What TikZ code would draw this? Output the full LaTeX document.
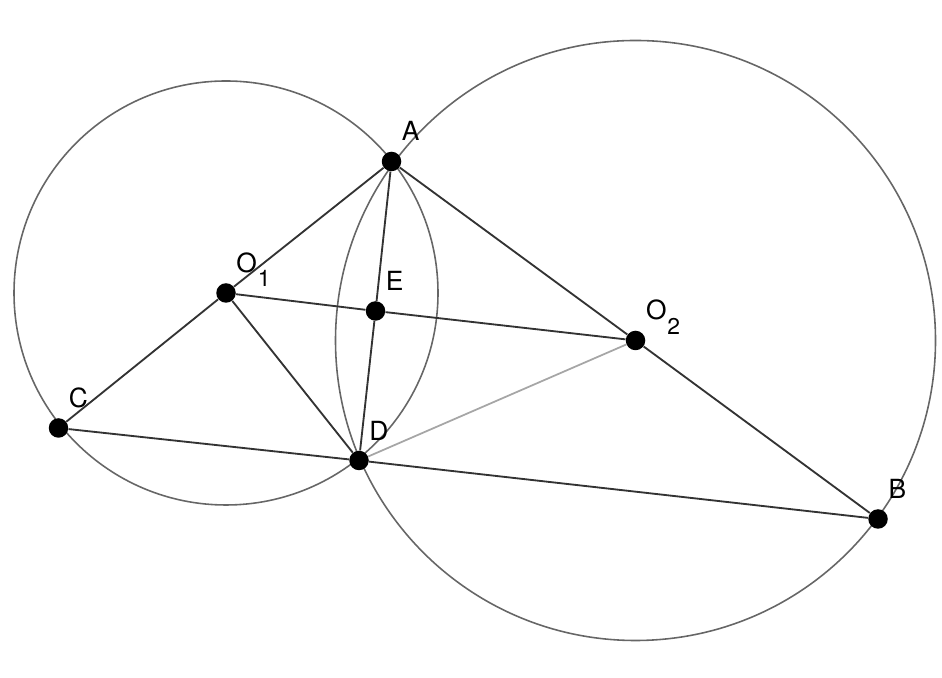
\documentclass[tikz,border=0pt]{standalone}
\usepackage{fontspec}
\setmainfont{TeX Gyre Heros}
\usepackage{tikz}
\usetikzlibrary{backgrounds}
\tikzstyle{pt} = [circle, fill=black, inner sep=0pt, minimum size=0.39cm]
\tikzstyle{lbl} = [font=\fontsize{15}{17}\selectfont, inner sep=0pt, xshift=0.06cm, yshift=0.26cm]
\tikzstyle{circ} = [draw=black!60, line width=0.9pt]
\tikzstyle{seg} = [draw=black!80, line width=1.05pt]
\tikzstyle{faint} = [draw=black!35, line width=1pt]
\newcommand{\idx}[1]{\hspace{0.5pt}\raisebox{-8.5pt}[0pt][0pt]{\fontsize{13}{15}\selectfont #1}}

\begin{document}
\begin{tikzpicture}[x=0.02cm, y=0.02cm]
    \useasboundingbox (0,0) rectangle (942,678);

        % points
        \node (A) [pt, label={[lbl]above right:A}] at (391.5,516.5) {};
        \node (O1) [pt, label={[lbl]above right:O\idx{1}}] at (226,385) {};
        \node (E) [pt, label={[lbl]above right:E}] at (375.5,367) {};
        \node (O2) [pt, label={[lbl]above right:O\idx{2}}] at (635.5,337.5) {};
        \node (C) [pt, label={[lbl]above right:C}] at (58.5,250) {};
        \node (D) [pt, label={[lbl]above right:D}] at (359,217.5) {};
        \node (B) [pt, label={[lbl]above right:B}] at (878,159) {};

        % circles
        \begin{scope}[on background layer]
            \draw [circ] (O1.center) circle[radius=212];
            \draw [circ] (O2.center) circle[radius=300];
        \end{scope}

        % segments
        \draw [seg] (A) -- (O1) -- (C);
        \draw [seg] (A) -- (O2) -- (B);
        \draw [seg] (A) -- (E) -- (D);
        \draw [seg] (O1) -- (E) -- (O2);
        \draw [seg] (C) -- (D) -- (B);
        \draw [seg] (O1) -- (D);
        \draw [faint] (O2) -- (D);

    \end{tikzpicture}
\end{document}
